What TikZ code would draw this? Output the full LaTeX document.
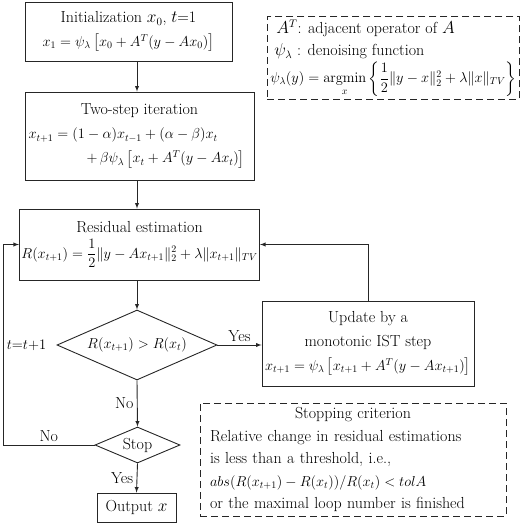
\documentclass[tikz,border=0pt]{standalone}
\usepackage{amsmath}
\usetikzlibrary{shapes.geometric,positioning}
\newcommand{\eqsz}{\fontsize{14.5}{24}\selectfont}

\begin{document}
\begin{tikzpicture}[x=1pt, y=-1pt, >=latex, line width=0.9pt, draw=black!85,
        font=\fontsize{16}{24}\selectfont,
        procbox/.style={draw=black!85, rectangle, align=center, inner sep=2pt},
        testbox/.style={draw=black!85, diamond, inner sep=0pt, align=center},
        notebox/.style={draw=black!85, rectangle, dash pattern=on 7pt off 4pt, inner sep=3pt}]
            \useasboundingbox (0,0) rectangle (520,524);
            % ==== PROCESS BOXES ====
            \node[procbox, minimum width=207pt, minimum height=59pt] (init) at (128.5,31.5)
                {Initialization $x_0$, $t$=1\\
                 {\eqsz $x_1=\psi_\lambda\left[x_0+A^T(y-Ax_0)\right]$}};
            \node[procbox, minimum width=229pt, minimum height=88pt, align=left] (iter) at (139.5,136)
                {\makebox[222pt]{Two-step iteration}\\
                 {\eqsz $x_{t+1}=(1-\alpha)x_{t-1}+(\alpha-\beta)x_t$}\\
                 {\eqsz\hspace*{58pt}$+\,\beta\psi_\lambda\left[x_t+A^T(y-Ax_t)\right]$}};
            \node[procbox, minimum width=229pt, minimum height=71pt] (resid) at (139.5,244.5)
                {Residual estimation\\[2pt]
                 {\eqsz $R(x_{t+1})=\dfrac{1}{2}\|y-Ax_{t+1}\|_2^2+\lambda\|x_{t+1}\|_{TV}$}};
            \node[procbox, minimum width=212pt, minimum height=85pt] (update) at (368,343.5)
                {Update by a\\ monotonic IST step\\
                 {\eqsz $x_{t+1}=\psi_\lambda\left[x_{t+1}+A^T(y-Ax_{t+1})\right]$}};
            \node[procbox, minimum width=79pt, minimum height=29pt] (output) at (136.5,507.5)
                {Output $x$};
            % ==== DECISIONS ====
            \node[testbox, shape aspect=2.3, minimum width=160pt, minimum height=70pt] (cmp) at (137,345)
                {\eqsz $R(x_{t+1})>R(x_t)$};
            \node[testbox, shape aspect=2.4, minimum width=85pt, minimum height=36pt] (stop) at (137.5,445)
                {Stop};
            % ==== NOTES ====
            \node[notebox, minimum width=251pt, minimum height=74pt, align=left,
                font=\fontsize{16}{22}\selectfont] (defs) at (393.5,58)
                {\hspace*{6pt}$A^T$: adjacent operator of $A$\\
                 \hspace*{4pt}$\psi_\lambda$ : denoising function\\[2pt]
                 {\eqsz $\psi_\lambda(y)=\operatorname*{argmin}\limits_x\left\{\dfrac{1}{2}\|y-x\|_2^2+\lambda\|x\|_{TV}\right\}$}};
            \node[notebox, minimum width=306pt, minimum height=113pt, text width=286pt, align=left,
                font=\fontsize{16}{22.5}\selectfont] (crit) at (353,459.5)
                {\makebox[\linewidth]{Stopping criterion}\\
                 Relative change in residual estimations\\
                 is less than a threshold, i.e.,\\
                 {\eqsz $abs(R(x_{t+1})-R(x_t))/R(x_t)<tolA$}\\
                 or the maximal loop number is finished};
            % ==== CONNECTORS ====
            \coordinate (loopbot) at (3,445);
            \draw[->] (init.south -| cmp) -- (iter.north -| cmp);
            \draw[->] (iter.south -| cmp) -- (resid.north -| cmp);
            \draw[->] (resid.south -| cmp) -- (cmp.north);
            \draw[->] (cmp.east) -- node[above]{Yes} (cmp.east -| update.west);
            \draw[->] (cmp.south) -- node[left]{No} (stop.north);
            \draw[->] (stop.south) -- node[left]{Yes} (output.north);
            \draw[->] (update.north) -- (update.north |- resid.east) -- (resid.east);
            \draw[->] (stop.west) -- node[above]{No} (loopbot)
                -- node[right, font=\eqsz]{$t$=$t$+1} (loopbot |- resid.west) -- (resid.west);
        \end{tikzpicture}
\end{document}
